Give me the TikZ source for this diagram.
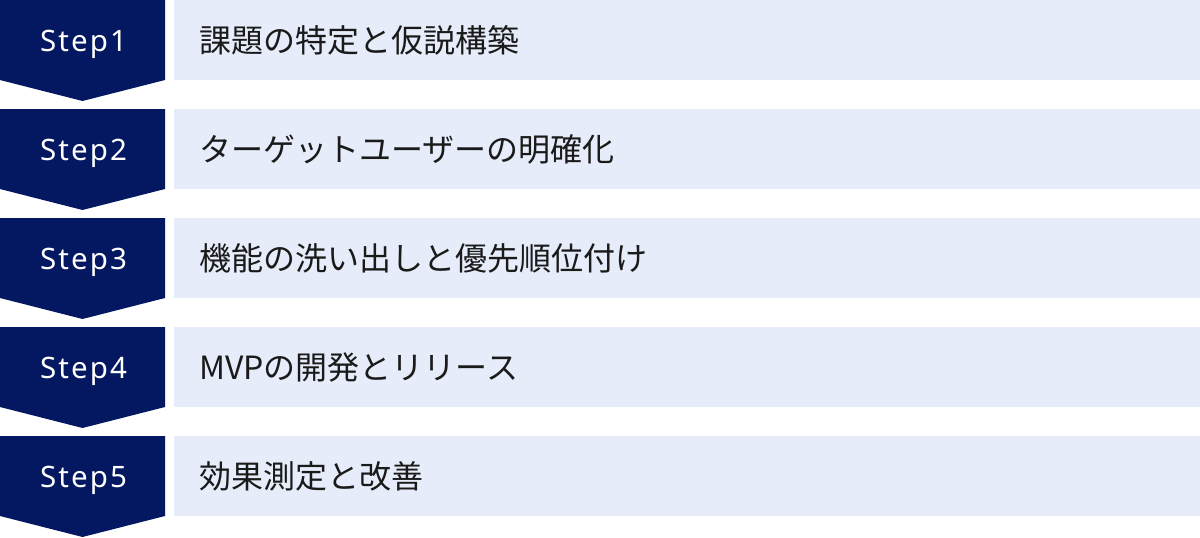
\documentclass[tikz,border=0pt]{standalone}
\usepackage{fontspec}
\setmainfont{Noto Sans CJK JP}
\newfontfamily\stepfont{Noto Sans}[LetterSpace=7]
\definecolor{navy}{RGB}{3,24,96}
\definecolor{barblue}{RGB}{230,236,249}
\definecolor{txt}{RGB}{26,26,26}
\begin{document}
\begin{tikzpicture}[x=1pt,y=-1pt,
  stepshape/.style={fill=navy,draw=none},
  barbox/.style={fill=barblue,draw=none},
  steplabel/.style={text=white,font=\stepfont\fontsize{29.5}{34}\selectfont,inner sep=0pt,anchor=base},
  titlelabel/.style={text=txt,font=\fontsize{32}{38}\selectfont,inner sep=0pt,anchor=west}]
\useasboundingbox (0,0) rectangle (1200,538);
\foreach \i/\t in {1/課題の特定と仮説構築,2/ターゲットユーザーの明確化,3/機能の洗い出しと優先順位付け,4/MVPの開発とリリース,5/効果測定と改善}{
  \pgfmathsetmacro{\top}{(\i-1)*109}
  \path[stepshape] (0,\top) -- (165,\top) -- (165,\top+80) -- (82.5,\top+101) -- (0,\top+80) -- cycle;
  \path[barbox] (174,\top) rectangle (1200,\top+80);
  \node[steplabel] (step\i) at (83.5,\top+51.3) {Step\i};
  \node[titlelabel] (title\i) at (199,\top+40) {\t};
}
\end{tikzpicture}
\end{document}
